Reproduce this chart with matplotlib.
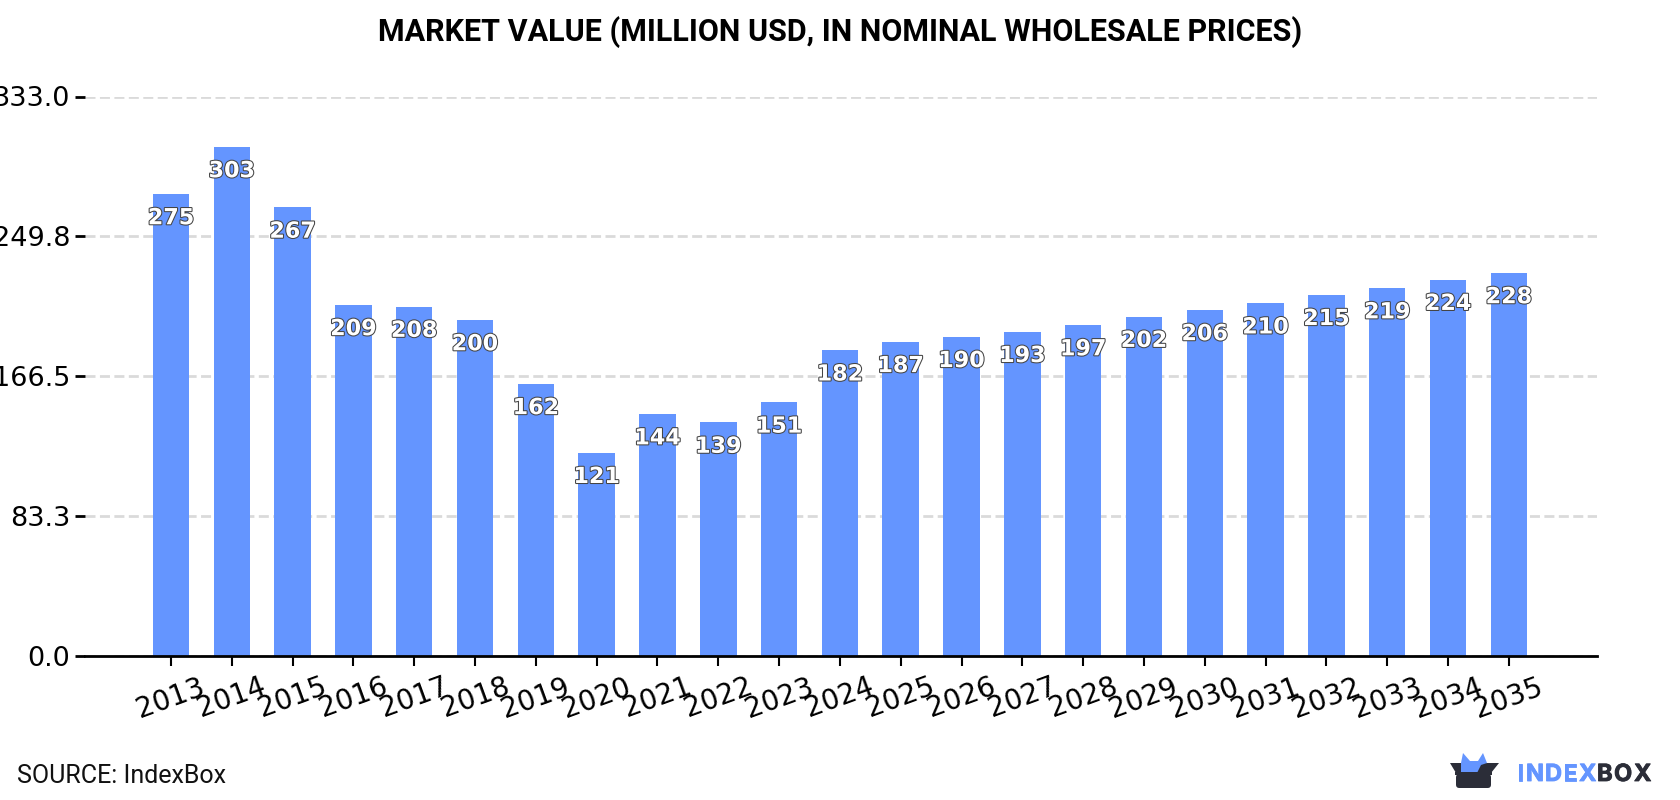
import matplotlib
matplotlib.use('Agg')
import matplotlib.pyplot as plt
import matplotlib.patheffects as pe
from matplotlib.patches import Polygon, FancyBboxPatch

years = list(range(2013, 2036))
values = [275, 303, 267, 209, 208, 200, 162, 121, 144, 139, 151, 182,
          187, 190, 193, 197, 202, 206, 210, 215, 219, 224, 228]
yticks = [0.0, 83.3, 166.5, 249.8, 333.0]

BLUE = '#6495ff'
DARK = '#2b2d38'
W, H = 1680, 800


def px(x, y):
    # figure fraction from pixel position measured from the top left
    return x / W, 1 - y / H


fig = plt.figure(figsize=(W / 100, H / 100), dpi=100)
ax = fig.add_axes([85 / W, 1 - 656 / H, (1597 - 85) / W, (656 - 96.5) / H])

xs = list(range(len(years)))
ax.bar(xs, values, width=0.6, color=BLUE, zorder=3)
ax.set_xlim(-1.414, 23.45)
ax.set_ylim(0, 333)

ax.set_yticks(yticks)
ax.set_yticklabels(['%.1f' % t for t in yticks], fontsize=19.5)
ax.set_xticks(xs)
ax.set_xticklabels(years, fontsize=20, rotation=20)
ax.tick_params(axis='y', length=7, width=2, pad=3.5)
ax.tick_params(axis='x', length=7, width=1.5, pad=5)
ax.grid(axis='y', color='#dadada', linestyle=(0, (3.6, 1.6)), linewidth=2, zorder=0)
for name in ['top', 'right', 'left']:
    ax.spines[name].set_visible(False)
ax.spines['bottom'].set_linewidth(2)
ax.spines['bottom'].set_zorder(5)

for x, v in zip(xs, values):
    ax.annotate(str(v), (x, v), xytext=(0, -17.5), textcoords='offset points',
                ha='center', va='center', fontsize=16, fontweight='bold',
                color='white', zorder=6,
                path_effects=[pe.withStroke(linewidth=1.5, foreground='#444444')])

fig.text(*px(840, 32), 'MARKET VALUE (MILLION USD, IN NOMINAL WHOLESALE PRICES)',
         family='Roboto', fontweight='bold', fontsize=22, ha='center', va='center')
fig.text(*px(17, 776), 'SOURCE: IndexBox', family='Roboto', fontsize=18,
         ha='left', va='center', color='#111111')

# logo: blue crown behind a dark open box, then the wordmark
crown = [(1461, 763), (1463, 753), (1470, 761), (1478, 761), (1483, 753),
         (1487, 763), (1477, 773), (1461, 773)]
lid = [(1450, 763), (1499, 763), (1491, 773), (1477, 773), (1481, 765),
       (1487, 763), (1461, 763), (1461, 773), (1456, 773)]
body = [(1455, 772), (1477, 772), (1492, 772), (1492, 775), (1455, 775)]
fig.add_artist(Polygon([px(*p) for p in crown], closed=True, color=BLUE,
                       transform=fig.transFigure, lw=0))
fig.add_artist(Polygon([px(*p) for p in lid], closed=True, color=DARK,
                       transform=fig.transFigure, lw=0))
fig.add_artist(FancyBboxPatch(px(1456, 788), 35 / W, 14 / H,
                              boxstyle='round,pad=0,rounding_size=0.002',
                              mutation_aspect=2.1, color=DARK, lw=0,
                              transform=fig.transFigure))
fig.add_artist(Polygon([px(*p) for p in body], closed=True, color=DARK,
                       transform=fig.transFigure, lw=0))
# wordmark is letter-spaced, so each letter is placed on its own
for letter, lx, col in [('I', 1517, BLUE), ('N', 1526, BLUE), ('D', 1545, BLUE),
                        ('E', 1563, BLUE), ('X', 1579, BLUE), ('B', 1597, DARK),
                        ('O', 1614, DARK), ('X', 1634, DARK)]:
    fig.text(*px(lx, 775), letter, family='Inter', fontweight='bold', fontsize=17,
             color=col, ha='left', va='center',
             path_effects=[pe.withStroke(linewidth=0.6, foreground=col)])

fig.savefig('out.png', dpi=100)
